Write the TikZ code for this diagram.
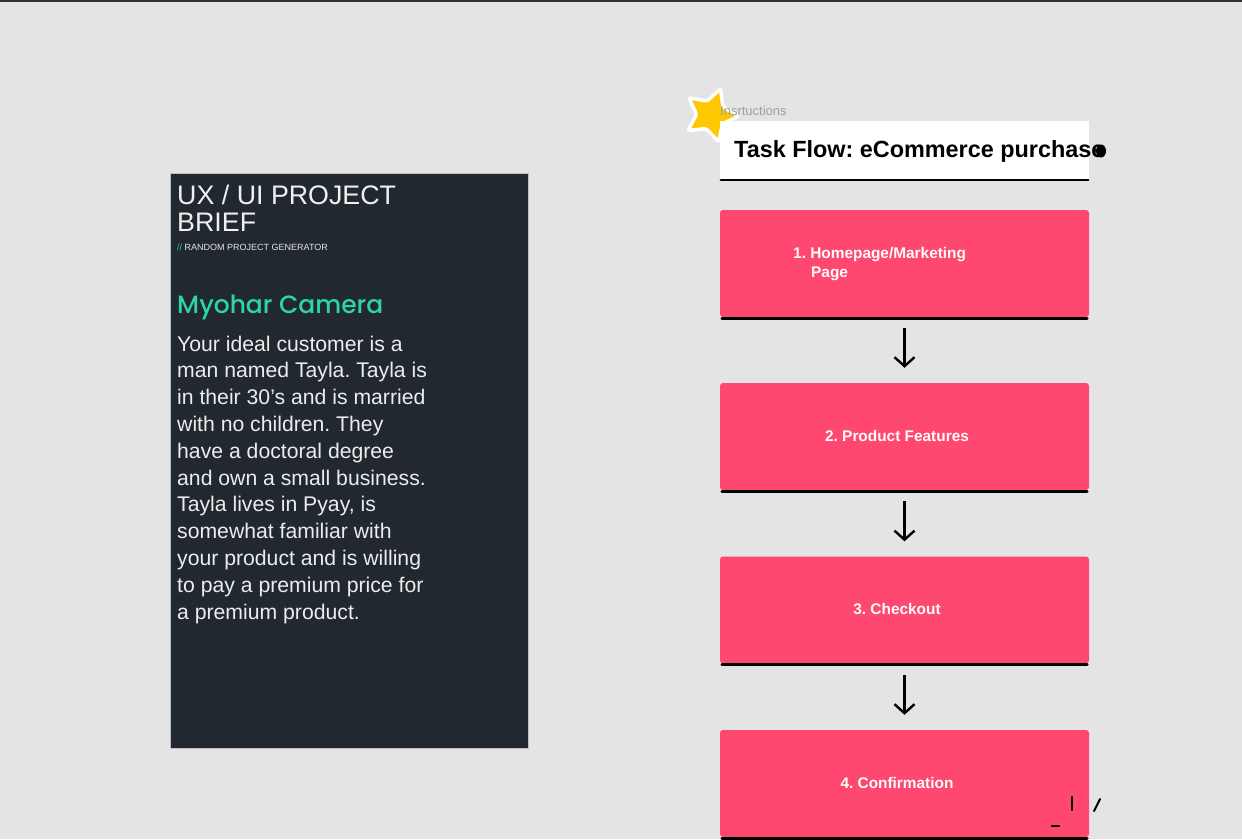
\documentclass[tikz,border=0pt]{standalone}
\usepackage{fontspec}
\setmainfont{Liberation Sans}
\newfontfamily\headfont{Poppins Medium}
\usetikzlibrary{shapes.geometric,arrows.meta}
\definecolor{canvas}{HTML}{E4E4E4}
\definecolor{panel}{HTML}{22282F}
\definecolor{flowpink}{HTML}{FF4870}
\definecolor{briefteal}{HTML}{2DD4A7}
\definecolor{staryellow}{HTML}{FFC700}
\begin{document}
\frenchspacing
\begin{tikzpicture}[x=1pt,y=-1pt,
    stepbox/.style={fill=flowpink, rounded corners=3pt, minimum width=369pt, minimum height=107pt, inner sep=0pt},
    steplabel/.style={text=white!95!pink, font=\fontsize{15.4}{18}\selectfont\bfseries},
    bodytext/.style={text=white!85!gray, font=\fontsize{21.2}{26}\selectfont, anchor=base west, inner sep=0pt},
    flowarrow/.style={line width=2.4pt, -{Straight Barb[length=9pt,width=20pt,line width=2.4pt]}, shorten <=11pt, shorten >=15pt}]
    \useasboundingbox (0,0) rectangle (1242,839);
    \fill[canvas] (0,0) rectangle (1242,839);
    \draw[line width=2pt, black!80] (0,1) -- (1242,1);

    % project brief
    \node[fill=panel, draw=gray!50, line width=0.6pt, minimum width=358pt, minimum height=575pt, inner sep=0pt] (brief) at (349,460.5) {};
    \node[anchor=base west, inner sep=0pt, text=white!88!gray, font=\fontsize{26.8}{27}\selectfont] (briefhead) at (177,204) {UX / UI PROJECT};
    \node[anchor=base west, inner sep=0pt, text=white!88!gray, font=\fontsize{26.8}{27}\selectfont] (briefhead2) at (177,231) {BRIEF};
    \node[anchor=base west, inner sep=0pt, text=white!80!gray, font=\fontsize{9}{10}\selectfont] (generator) at (177,250.5) {\textcolor{briefteal}{//} RANDOM PROJECT GENERATOR};
    \node[anchor=base west, inner sep=0pt, text=briefteal, font=\headfont\fontsize{25}{30}\selectfont] (company) at (177,313) {Myohar Camera};
    \foreach \t [count=\i from 0] in {Your ideal customer is a, man named Tayla. Tayla is, in their 30’s and is married, with no children. They, have a doctoral degree, and own a small business., {Tayla lives in Pyay, is}, somewhat familiar with, your product and is willing, to pay a premium price for, a premium product.}
        \node[bodytext] (line\i) at (177,351+26.8*\i) {\t};

    % task flow
    \node[star, star points=5, star point ratio=1.95, fill=staryellow, draw=white, line width=3.5pt, rounded corners=2.5pt, minimum size=56pt, inner sep=0pt, rotate=-20] (badge) at (711,115) {};
    \node[anchor=base west, inner sep=0pt, text=gray!75, font=\fontsize{13}{15}\selectfont] (instr) at (720,115.5) {Insrtuctions};
    \node[fill=white, minimum width=369pt, minimum height=59pt, inner sep=0pt] (title) at (904.5,150.5) {};
    \draw[line width=2.4pt, line cap=round] ([xshift=1pt]title.south west) -- ([xshift=-1pt]title.south east);
    \node[anchor=base west, inner sep=0pt, font=\fontsize{23.4}{28}\selectfont\bfseries] (titletext) at (734,157.5) {Task Flow: eCommerce purchase};
    \fill (1101,151) ellipse (5pt and 6.5pt);

    \node[stepbox] (s1) at (904.5,263.5) {};
    \node[stepbox] (s2) at (904.5,436.5) {};
    \node[stepbox] (s3) at (904.5,610) {};
    \node[stepbox] (s4) at (904.5,783.5) {};
    \foreach \s in {s1,s2,s3,s4}
        \draw[line width=2.6pt, line cap=round] ([xshift=2pt,yshift=-1pt]\s.south west) -- ([xshift=-2pt,yshift=-1pt]\s.south east);

    \node[steplabel, anchor=base west, inner sep=0pt] (l1) at (793,258) {1. Homepage/Marketing};
    \node[steplabel, anchor=base west, inner sep=0pt] (l1b) at (811,277) {Page};
    \node[steplabel] (l2) at (897,436) {2. Product Features};
    \node[steplabel] (l3) at (897,609) {3. Checkout};
    \node[steplabel] (l4) at (897,783) {4. Confirmation};

    \draw[flowarrow] (s1.south) -- (s2.north);
    \draw[flowarrow] (s2.south) -- (s3.north);
    \draw[flowarrow] (s3.south) -- (s4.north);

    % pen marks
    \draw[line width=2.2pt, line cap=round] (1072,797) -- (1072,810);
    \draw[line width=2.6pt, line cap=round] (1052,826) -- (1059,826);
    \draw[line width=2pt, line cap=round] (1094,811) -- (1100,799);
\end{tikzpicture}
\end{document}
